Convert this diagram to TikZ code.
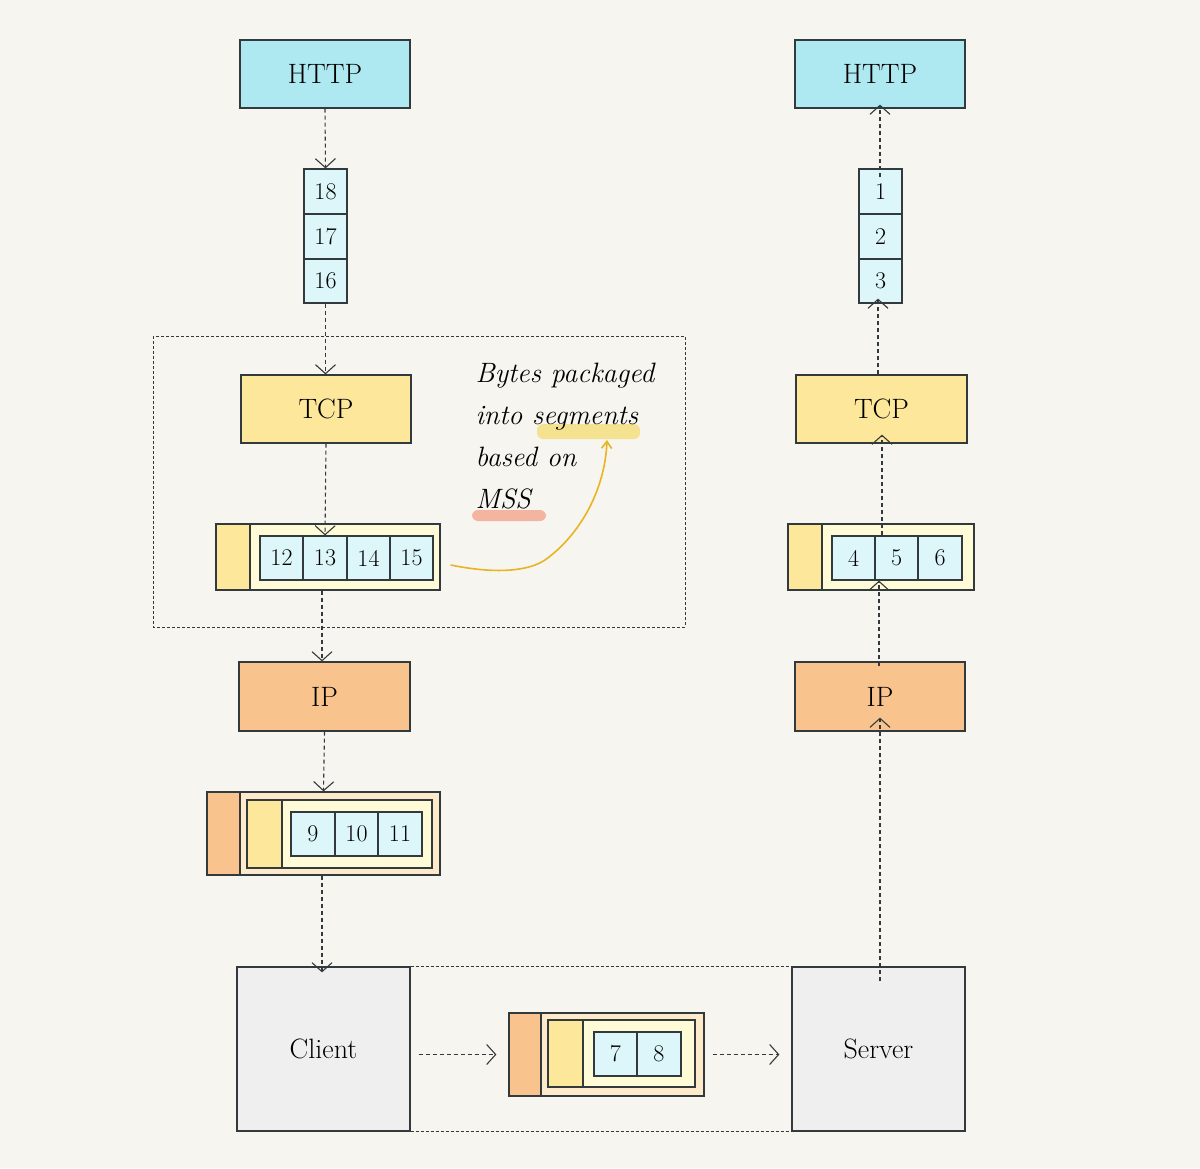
\documentclass[tikz,border=0pt]{standalone}
\usetikzlibrary{arrows.meta}
\definecolor{bg}{HTML}{F7F5F0}
\definecolor{cy}{HTML}{AEE8F0}
\definecolor{lcy}{HTML}{DDF6FA}
\definecolor{ye}{HTML}{FCE79A}
\definecolor{lye}{HTML}{FFFBD6}
\definecolor{orr}{HTML}{F8C38C}
\definecolor{lor}{HTML}{FDEACB}
\definecolor{gr}{HTML}{EFEFEF}
\definecolor{ln}{HTML}{333A3E}
\definecolor{pen}{HTML}{E8B422}
\definecolor{hly}{HTML}{F5DE7A}
\definecolor{hlr}{HTML}{F2A48C}
\begin{document}
\begin{tikzpicture}[x=1pt,y=-1pt,
  box/.style={draw=ln,line width=1.2pt,inner sep=0pt,font=\fontsize{28}{30}\selectfont},
  cell/.style={box,fill=lcy,minimum height=44pt,font=\fontsize{24}{26}\selectfont},
  fl/.style={draw=ln,line width=1.2pt},
  arr/.style={draw=ln,line width=1.1pt,dash pattern=on 4pt off 3pt,-{Straight Barb[length=9pt,width=20pt]}},
  dot/.style={draw=ln,line width=1pt,dash pattern=on 3pt off 2pt}]
\fill[bg] (0,0) rectangle (1200,1168);
\useasboundingbox (0,0) rectangle (1200,1168);
% dotted group
\draw[dot] (153,336) rectangle (685,627);
% left column
\node[box,fill=cy,minimum width=170pt,minimum height=68pt] (h1) at (325,74) {HTTP};
\node[cell,minimum width=43pt,minimum height=45pt] (s18) at (325.5,191.5) {18};
\node[cell,minimum width=43pt,minimum height=45pt] (s17) at (325.5,236.5) {17};
\node[cell,minimum width=43pt,minimum height=44pt] (s16) at (325.5,281) {16};
\node[box,fill=ye,minimum width=170pt,minimum height=68pt] (t1) at (326,409) {TCP};
% segment left
\node[box,fill=lye,minimum width=224pt,minimum height=66pt] (seg1) at (328,557) {};
\fill[ye] (216.6,524.6) rectangle (250,589.4);
\draw[fl] (250,524) -- (250,590);
\node[cell,minimum width=43pt] (c12) at (281.5,558) {12};
\node[cell,minimum width=44pt] (c13) at (325,558) {13};
\node[cell,minimum width=43pt] (c14) at (368.5,558) {14};
\node[cell,minimum width=43pt] (c15) at (411.5,558) {15};
% highlights
\fill[hly,opacity=0.8,rounded corners=6pt] (537,424) rectangle (640,439);
\fill[hlr,opacity=0.8,rounded corners=6pt] (472,510) rectangle (546,521);
\node[font=\fontsize{28}{42}\selectfont\itshape,align=left,anchor=north west] (note) at (472,360) {Bytes packaged\\into segments\\based on\\MSS};
\coordinate (ps) at ([xshift=10pt,yshift=-8pt]seg1.east);
\draw[pen,line width=1.6pt,-{Straight Barb[length=7pt,width=10pt]}] (ps) .. controls (500,575) and (530,570) .. (545,560) .. controls (580,535) and (605,490) .. (607,440);
\node[box,fill=orr,minimum width=171pt,minimum height=69pt] (ip1) at (324.5,696.5) {IP};
% packet left
\node[box,fill=lor,minimum width=233pt,minimum height=83pt] (p1) at (323.5,833.5) {};
\fill[orr] (207.6,792.6) rectangle (240,874.4);
\draw[fl] (240,792) -- (240,875);
\draw[fl,fill=lye] (247,800) rectangle (432,868);
\fill[ye] (247.6,800.6) rectangle (282,867.4);
\draw[fl] (282,800) -- (282,868);
\node[cell,minimum width=44pt] (c9) at (313,834) {9};
\node[cell,minimum width=43pt] (c10) at (356.5,834) {10};
\node[cell,minimum width=44pt] (c11) at (400,834) {11};
% client/server
\node[box,fill=gr,minimum width=173pt,minimum height=164pt] (cl) at (323.5,1049) {Client};
\node[box,fill=gr,minimum width=173pt,minimum height=164pt] (sv) at (878.5,1049) {Server};
\draw[dot] (cl.north east) -- (sv.north west);
\draw[dot] (cl.south east) -- (sv.south west);
% middle packet
\node[box,fill=lor,minimum width=195pt,minimum height=83pt] (p2) at (606.5,1054.5) {};
\fill[orr] (509.6,1013.6) rectangle (541,1095.4);
\draw[fl] (541,1013) -- (541,1096);
\draw[fl,fill=lye] (548,1020) rectangle (695,1087);
\fill[ye] (548.6,1020.6) rectangle (583,1086.4);
\draw[fl] (583,1020) -- (583,1087);
\node[cell,minimum width=43pt] (c7) at (615.5,1054) {7};
\node[cell,minimum width=44pt] (c8) at (659,1054) {8};
% right column
\node[box,fill=cy,minimum width=170pt,minimum height=68pt] (h2) at (880,74) {HTTP};
\node[cell,minimum width=43pt,minimum height=45pt] (r1) at (880.5,191.5) {1};
\node[cell,minimum width=43pt,minimum height=45pt] (r2) at (880.5,236.5) {2};
\node[cell,minimum width=43pt,minimum height=44pt] (r3) at (880.5,281) {3};
\node[box,fill=ye,minimum width=171pt,minimum height=68pt] (t2) at (881.5,409) {TCP};
\node[box,fill=lye,minimum width=186pt,minimum height=66pt] (seg2) at (881,557) {};
\fill[ye] (788.6,524.6) rectangle (822,589.4);
\draw[fl] (822,524) -- (822,590);
\node[cell,minimum width=43pt] (c4) at (853.5,558) {4};
\node[cell,minimum width=43pt] (c5) at (896.5,558) {5};
\node[cell,minimum width=44pt] (c6) at (940,558) {6};
\node[box,fill=orr,minimum width=170pt,minimum height=69pt] (ip2) at (880,696.5) {IP};
% arrows left
\draw[arr] (h1.south) -- (s18.north);
\draw[arr] (s16.south) -- (t1.north -| s16.south);
\draw[arr] (t1.south) -- (c13.north);
\draw[arr] ([xshift=-6pt]seg1.south) -- ([xshift=-2.5pt]ip1.north);
\draw[arr] (ip1.south) -- (p1.north);
\draw[arr] ([xshift=-1.5pt]p1.south) -- ([yshift=-6pt,xshift=-1.5pt]cl.north);
\draw[arr] ([xshift=8pt]cl.east |- p2.west) -- ([xshift=-12pt]p2.west);
\draw[arr] ([xshift=8pt]p2.east) -- ([xshift=-12pt]sv.west |- p2.east);
% arrows right
\draw[arr] ([yshift=-15pt,xshift=1.5pt]sv.north) -- ([yshift=14pt]ip2.south);
\draw[arr] ([yshift=-5pt,xshift=-1pt]ip2.north) -- ([yshift=10pt,xshift=-2pt]seg2.south);
\draw[arr] ([yshift=-12pt,xshift=1pt]seg2.north) -- ([yshift=9pt,xshift=0.5pt]t2.south);
\draw[arr] ([xshift=-3.5pt]t2.north) -- ([yshift=5pt,xshift=-2.5pt]r3.south);
\draw[arr] ([yshift=-9pt,xshift=-0.5pt]r1.north) -- ([yshift=4pt]h2.south);
\end{tikzpicture}
\end{document}
